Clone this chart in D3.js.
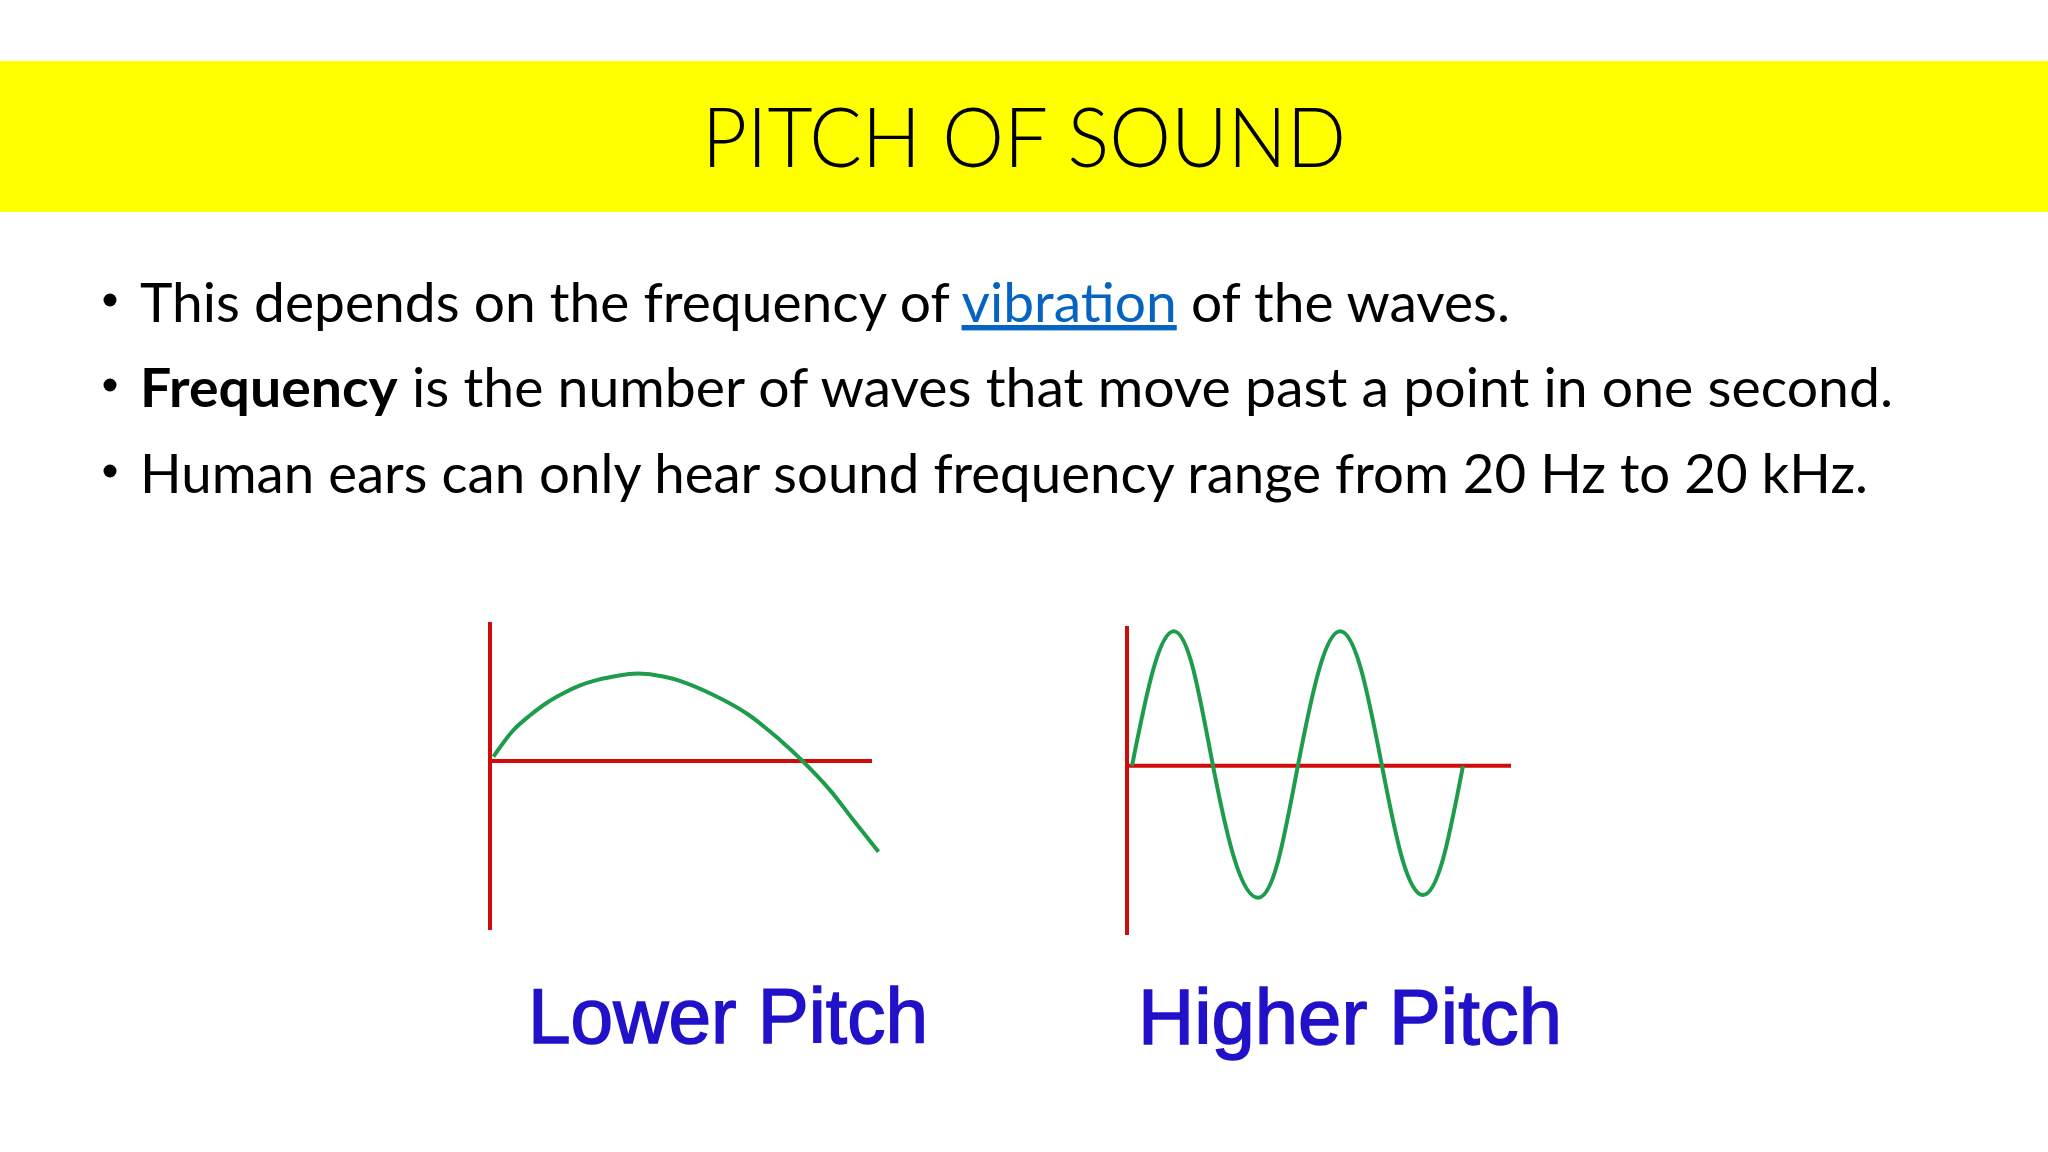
<!DOCTYPE html>
<html>
<head>
<meta charset="utf-8">
<script src="https://cdn.jsdelivr.net/npm/d3@7"></script>
<style>
  body { margin: 0; background: #fff; }
  svg { display: block; }
</style>
</head>
<body>
<svg id="slideSVG" width="2048" height="1152"></svg>
<script>
var titleText = 'PITCH OF SOUND';

// bullet lines, each split into runs of [text, style]
var bulletLine1 = [['This depends on the frequency of ', 'plain'], ['vibration', 'link'], [' of the waves.', 'plain']];
var bulletLine2 = [['Frequency', 'bold'], [' is the number of waves that move past a point in one second.', 'plain']];
var bulletLine3 = [['Human ears can only hear sound frequency range from 20 Hz to 20 kHz.', 'plain']];

var waveLabels = ['Lower Pitch', 'Higher Pitch'];

// lower pitch wave (time units 0..10, displacement in amplitudes)
var lowerT = [0.09, 0.61, 1.05, 1.48, 1.92, 2.36, 2.79, 3.23, 3.66, 4.10, 4.54, 4.97, 5.85, 6.72, 7.59, 8.16, 8.90, 9.51, 10.17];
var lowerY = [0.05, 0.35, 0.52, 0.66, 0.77, 0.86, 0.92, 0.96, 0.99, 0.99, 0.96, 0.91, 0.75, 0.54, 0.24, 0.01, -0.33, -0.67, -1.03];

// higher pitch wave, same units
var higherT = [0.13, 0.68, 1.22, 1.73, 2.24, 2.82, 3.41, 3.93, 4.45, 5.0, 5.55, 6.1, 6.64, 7.17, 7.71, 8.23, 8.75];
var higherY = [0, 0.72, 1.01, 0.72, 0, -0.72, -0.99, -0.72, 0, 0.72, 1.01, 0.72, 0, -0.70, -0.97, -0.70, 0];

var svg = d3.select('#slideSVG');
var bodyFont = "Lato, 'Open Sans', sans-serif";

// yellow title band
svg.append('rect')
  .attr('x', 0).attr('y', 61)
  .attr('width', 2048).attr('height', 151)
  .attr('fill', '#ffff00');

svg.append('text')
  .attr('x', 1024).attr('y', 167)
  .attr('text-anchor', 'middle')
  .attr('font-family', bodyFont)
  .attr('font-weight', 300)
  .attr('font-size', 82)
  .attr('fill', '#000')
  .attr('textLength', 644)
  .attr('lengthAdjust', 'spacingAndGlyphs')
  .text(titleText);

// bullets
var bulletRows = [
  {runs: bulletLine1, base: 322, width: 1370},
  {runs: bulletLine2, base: 407, width: 1753},
  {runs: bulletLine3, base: 493, width: 1728}
];

var rowG = svg.selectAll('.bulletRow')
  .data(bulletRows)
  .enter()
  .append('g')
  .attr('class', 'bulletRow');

rowG.append('circle')
  .attr('cx', 110)
  .attr('cy', function(d) { return d.base - 22; })
  .attr('r', 6.5)
  .attr('fill', '#000');

rowG.append('text')
  .attr('x', 140)
  .attr('y', function(d) { return d.base; })
  .attr('font-family', bodyFont)
  .attr('font-size', 54)
  .attr('fill', '#000')
  .attr('textLength', function(d) { return d.width; })
  .attr('lengthAdjust', 'spacingAndGlyphs')
  .style('white-space', 'pre')
  .selectAll('tspan')
  .data(function(d) { return d.runs; })
  .enter()
  .append('tspan')
  .attr('font-weight', function(r) { return r[1] === 'bold' ? 700 : 400; })
  .attr('fill', function(r) { return r[1] === 'link' ? '#0563c1' : '#000'; })
  .style('text-decoration', function(r) { return r[1] === 'link' ? 'underline' : null; })
  .text(function(r) { return r[0]; });

// the two wave panels
var panels = [
  {t: lowerT, y: lowerY, label: waveLabels[0], xRange: [490, 872], yRange: [930, 622], yDomain: [-1.92, 1.58],
   curve: d3.curveCatmullRom.alpha(0.5), labelX: 528, labelBase: 1043, labelWidth: 400},
  {t: higherT, y: higherY, label: waveLabels[1], xRange: [1127, 1511], yRange: [935, 626], yDomain: [-1.27, 1.05],
   curve: d3.curveNatural, labelX: 1138, labelBase: 1044, labelWidth: 424}
];

panels.forEach(function(p) {
  var x = d3.scaleLinear().domain([0, 10]).range(p.xRange);
  var y = d3.scaleLinear().domain(p.yDomain).range(p.yRange);
  var g = svg.append('g').attr('class', 'panel');

  // red axes
  g.append('line')
    .attr('x1', x(0)).attr('x2', x(0))
    .attr('y1', y(p.yDomain[0])).attr('y2', y(p.yDomain[1]))
    .attr('stroke', '#d10a0a').attr('stroke-width', 4);
  g.append('line')
    .attr('x1', x(0)).attr('x2', x(10))
    .attr('y1', y(0)).attr('y2', y(0))
    .attr('stroke', '#d10a0a').attr('stroke-width', 4);

  var wave = d3.line()
    .x(function(d) { return x(d[0]); })
    .y(function(d) { return y(d[1]); })
    .curve(p.curve);

  g.append('path')
    .datum(d3.zip(p.t, p.y))
    .attr('d', wave)
    .attr('fill', 'none')
    .attr('stroke', '#1f9c4b')
    .attr('stroke-width', 4);

  g.append('text')
    .attr('x', p.labelX).attr('y', p.labelBase)
    .attr('font-family', "'Liberation Sans', Arial, sans-serif")
    .attr('font-size', 77)
    .attr('fill', '#2111c9')
    .attr('stroke', '#2111c9')
    .attr('stroke-width', 1.5)
    .attr('textLength', p.labelWidth)
    .attr('lengthAdjust', 'spacingAndGlyphs')
    .text(p.label);
});
</script>
</body>
</html>
